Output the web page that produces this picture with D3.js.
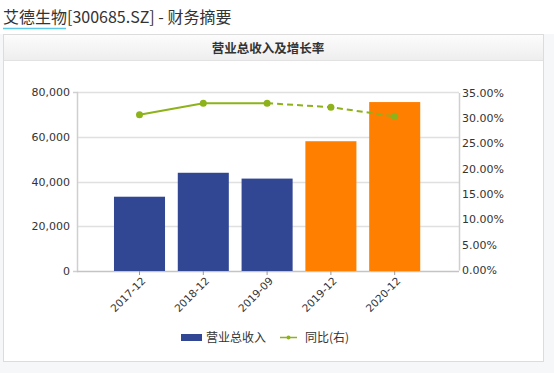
<!DOCTYPE html>
<html>
<head>
<meta charset="utf-8">
<script src="https://cdn.jsdelivr.net/npm/d3@7"></script>
<style>
  body { margin: 0; background: #f6f7f9; font-family: "Microsoft YaHei", "Noto Sans CJK SC", sans-serif; }
  svg { display: block; }
</style>
</head>
<body>
<script>
var categories = ["2017-12", "2018-12", "2019-09", "2019-12", "2020-12"];
var revenue = [33200, 43900, 41300, 58000, 75500];
var growth = [30.6, 32.9, 32.9, 32.1, 30.3];
var forecast = [false, false, false, true, true];
var leftTicks = [0, 20000, 40000, 60000, 80000];
var rightTicks = [0, 5, 10, 15, 20, 25, 30, 35];

var W = 554, H = 373;
var svg = d3.select("body").append("svg").attr("width", W).attr("height", H);

// page background and header
svg.append("rect").attr("width", W).attr("height", H).attr("fill", "#f6f7f9");
svg.append("rect").attr("x", 0).attr("y", 0).attr("width", W).attr("height", 34).attr("fill", "#fff");
var head = svg.append("text").attr("x", 3).attr("y", 23)
    .attr("font-size", 16).attr("fill", "#333")
    .attr("font-family", "'Noto Sans CJK SC', sans-serif");
head.append("tspan").text("艾德生物");
head.append("tspan").text("[300685.SZ] - 财务摘要");
svg.append("line").attr("x1", 3).attr("x2", 66).attr("y1", 28.5).attr("y2", 28.5)
    .attr("stroke", "#5ac8e6").attr("stroke-width", 1.5);

// panel
var defs = svg.append("defs");
var grad = defs.append("linearGradient").attr("id", "hg").attr("x1", 0).attr("y1", 0).attr("x2", 0).attr("y2", 1);
grad.append("stop").attr("offset", "0%").attr("stop-color", "#fcfcfc");
grad.append("stop").attr("offset", "100%").attr("stop-color", "#eeeeee");
svg.append("rect").attr("x", 3.5).attr("y", 34.5).attr("width", 540).attr("height", 327)
    .attr("fill", "#fff").attr("stroke", "#dcdcdc");
svg.append("rect").attr("x", 4).attr("y", 35).attr("width", 539).attr("height", 25).attr("fill", "url(#hg)");
svg.append("line").attr("x1", 4).attr("x2", 543).attr("y1", 60.5).attr("y2", 60.5).attr("stroke", "#e2e2e2");
svg.append("text").attr("x", 268).attr("y", 52.5).attr("text-anchor", "middle")
    .attr("font-size", 12.5).attr("font-weight", "bold").attr("fill", "#333")
    .attr("font-family", "'Noto Sans CJK SC', sans-serif")
    .text("营业总收入及增长率");

// scales
var plotL = 77, plotR = 459, plotT = 92, plotB = 271;
var x = d3.scaleBand().domain(categories).range([107.6, 426.6]).paddingInner(0.2).paddingOuter(0.1);
var y = d3.scaleLinear().domain([0, 80000]).range([plotB, plotT]);
var y2 = d3.scaleLinear().domain([0, 35]).range([plotB - 1, plotT + 0.5]);

// grid
svg.append("g").selectAll("line").data(leftTicks.slice(1)).enter().append("line")
    .attr("x1", plotL).attr("x2", plotR)
    .attr("y1", function(d) { return Math.round(y(d)) + 0.5; })
    .attr("y2", function(d) { return Math.round(y(d)) + 0.5; })
    .attr("stroke", "#e0e0e0").attr("stroke-width", 1.5);

// axes
var axFont = "Verdana, 'DejaVu Sans', sans-serif";
var gl = svg.append("g").attr("transform", "translate(" + plotL + ",0)")
    .call(d3.axisLeft(y).tickValues(leftTicks).tickSize(4).tickFormat(d3.format(",")));
var gr = svg.append("g").attr("transform", "translate(" + plotR + ",0)")
    .call(d3.axisRight(y2).tickValues(rightTicks).tickSize(0).tickPadding(3)
      .tickFormat(function(d) { return d.toFixed(2) + "%"; }));
[gl, gr].forEach(function(g) {
  g.select(".domain").attr("stroke", "#cfcfcf").attr("stroke-width", 1.5);
  g.selectAll(".tick line").attr("stroke", "#cfcfcf");
  g.selectAll("text").attr("font-family", axFont).attr("font-size", 11).attr("fill", "#333");
});
gl.selectAll(".tick line").remove();

var gx = svg.append("g").attr("transform", "translate(0," + plotB + ")")
    .call(d3.axisBottom(x).tickSize(4).tickSizeOuter(0));
gx.select(".domain").attr("d", "M" + plotL + ",0.5H" + plotR).attr("stroke", "#c4c4c4").attr("stroke-width", 1.5);
gx.selectAll(".tick line").attr("stroke", "#999");
gx.selectAll("text")
    .attr("font-family", axFont).attr("font-size", 10.5).attr("fill", "#333")
    .attr("text-anchor", "end")
    .attr("transform", "translate(4,8) rotate(-45)")
    .attr("dy", "0.35em").attr("y", 0).attr("x", 0);

// bars
svg.append("g").selectAll("rect").data(categories).enter().append("rect")
    .attr("x", function(d) { return x(d); })
    .attr("width", x.bandwidth())
    .attr("y", function(d, i) { return y(revenue[i]); })
    .attr("height", function(d, i) { return plotB - y(revenue[i]); })
    .attr("fill", function(d, i) { return forecast[i] ? "#ff7f00" : "#324793"; });

// growth line: actual solid, forecast dashed
var pts = categories.map(function(c, i) { return [x(c) + x.bandwidth() / 2, y2(growth[i])]; });
var line = d3.line();
svg.append("path").attr("d", line(pts.slice(0, 3))).attr("fill", "none")
    .attr("stroke", "#8db21a").attr("stroke-width", 2);
svg.append("path").attr("d", line(pts.slice(2))).attr("fill", "none")
    .attr("stroke", "#8db21a").attr("stroke-width", 2).attr("stroke-dasharray", "6,4");
svg.append("g").selectAll("circle").data(pts).enter().append("circle")
    .attr("cx", function(d) { return d[0]; }).attr("cy", function(d) { return d[1]; })
    .attr("r", 3.5).attr("fill", "#8db21a");

// legend
var lg = svg.append("g").attr("font-size", 12).attr("fill", "#333")
    .attr("font-family", "'Noto Sans CJK SC', sans-serif");
lg.append("rect").attr("x", 181).attr("y", 334).attr("width", 21).attr("height", 7).attr("fill", "#324793");
lg.append("text").attr("x", 206).attr("y", 342).text("营业总收入");
lg.append("line").attr("x1", 280).attr("x2", 297).attr("y1", 337.5).attr("y2", 337.5)
    .attr("stroke", "#8db21a").attr("stroke-width", 1.5);
lg.append("circle").attr("cx", 288.5).attr("cy", 337.5).attr("r", 2).attr("fill", "#8db21a");
lg.append("text").attr("x", 305).attr("y", 342).text("同比(右)");
</script>
</body>
</html>
